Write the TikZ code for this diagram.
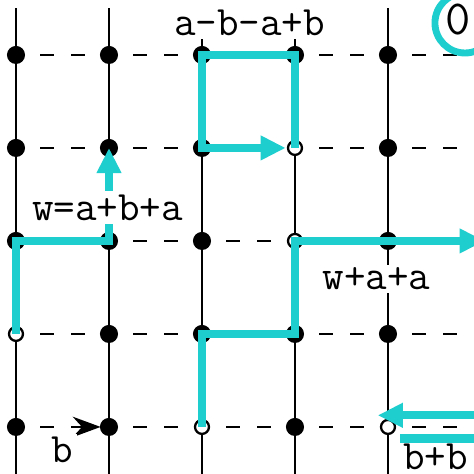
\documentclass[tikz,border=0pt]{standalone}
\usepackage{fontspec}
\usepackage{xcolor}
\usetikzlibrary{arrows.meta}
\definecolor{walkcyan}{RGB}{30,205,205}

\begin{document}
\begin{tikzpicture}[x=1cm,y=1cm,
  colline/.style={black, line width=0.75pt},
  rowline/.style={black, line width=0.75pt, dash pattern=on 0.15cm off 0.18333cm},
  walk/.style={walkcyan, line width=2.5pt, line join=miter},
  walktip/.style={-{Triangle[length=0.27cm,width=0.25cm]}},
  wordlbl/.style={fill=white, inner sep=1pt, font=\ttfamily\fontsize{12.8}{14}\selectfont},
  ]
\useasboundingbox (-0.172,-0.505) rectangle (4.925,4.591);

% lattice points
\foreach \i in {0,...,4}{
  \foreach \j in {0,...,4}{
    \coordinate (p\i\j) at (\i,\j);
  }
}

% grid
\foreach \i in {0,...,4}{
  \draw[colline] (\i,-0.6)--(\i,4.505);
}
\foreach \j in {0,...,4}{
  \draw[rowline] (-0.40833,\j)--(5.1,\j);
}

% dots
\foreach \i/\j in {0/0,1/0,3/0,
                   1/1,2/1,3/1,4/1,
                   0/2,1/2,2/2,4/2,
                   0/3,1/3,2/3,4/3,
                   0/4,1/4,2/4,3/4,4/4}{
  \draw[fill=black] (p\i\j) circle [radius=0.09];
}
\foreach \i/\j in {3/3,3/2,0/1,2/0,4/0}{
  \draw[fill=white, line width=0.7pt] (p\i\j) circle [radius=0.075];
}

% step b
\draw[rowline, dash phase=0.075cm, -{Stealth[length=0.3cm,width=0.22cm,inset=0.1cm]}, shorten >=0.09cm] (p00)--(p10);

% walks
\draw[walk, walktip, shorten >=0.1cm] (p33)--(p34)--(p24)--(p23)--(p33); %a-b-a+b
\draw[walk, walktip] (p01)--(p02)--(p12)--(p13); %w
\coordinate (wend) at (5.04,2);
\draw[walk, walktip] (p20)--(p21)--(p31)--(p32)--(wend); %w+a+a
\coordinate (bbtail) at (5.0,0.125);
\coordinate (bbtip) at (3.89,0.125);
\draw[walk, walktip] (bbtail)--(bbtip);
\coordinate (bbstart) at (4.13,-0.125);
\coordinate (bbend) at (5.0,-0.125);
\draw[walk] (bbstart)--(bbend);

% zero
\coordinate (zc) at (4.828,4.344);
\draw[walkcyan, line width=2.1pt] (zc) circle [radius=0.323];

% labels
\node[wordlbl] (l1) at (2.51,4.35) {a-b-a+b};
\node[wordlbl] (l2) at (0.985,2.36) {w=a+b+a};
\node[wordlbl] (l3) at (3.876,1.59) {w+a+a};
\node[wordlbl] (l4) at (0.5,-0.247) {b};
\node[wordlbl, fill=none] (l5) at (4.51,-0.32) {b+b};
\node[inner sep=0pt, font=\ttfamily\fontsize{15}{17}\selectfont] (l6) at (4.753,4.38) {0};

\end{tikzpicture}
\end{document}
